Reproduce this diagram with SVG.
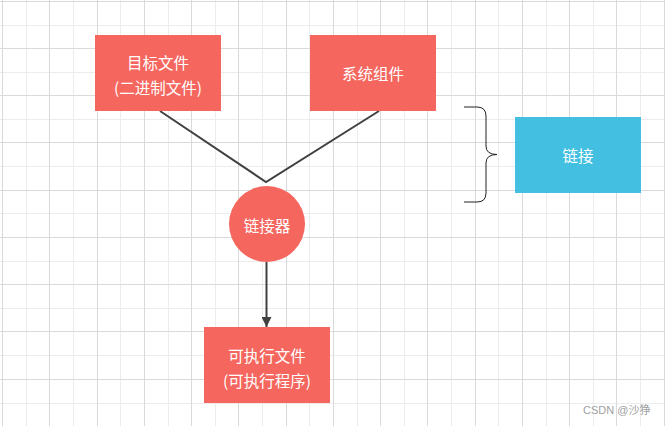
<svg xmlns="http://www.w3.org/2000/svg" width="665" height="426" viewBox="0 0 665 426">
<style>
.light{stroke:#ececec;stroke-width:1;fill:none}
.dark{stroke:#dadada;stroke-width:1;fill:none}
.box{fill:#f5665e}
.blue{fill:#42bfe1}
.t{font-family:"Noto Sans CJK SC","Noto Sans",sans-serif;font-size:15.5px;fill:#ffffff;text-anchor:middle;dominant-baseline:central}
.edge{stroke:#404040;stroke-width:2;fill:none}
.wm{font-family:"Liberation Sans","Noto Sans CJK SC",sans-serif;font-size:11px;fill:#a0a0a0}
</style>
<defs>
<marker id="arr" viewBox="0 0 10 10" refX="10" refY="5" markerWidth="5" markerHeight="5" markerUnits="strokeWidth" orient="auto">
<path d="M0,0 L10,5 L0,10 Z" fill="#404040"/>
</marker>
</defs>
<rect width="665" height="426" fill="#ffffff"/>
<g id="grid">
<path class="light" d="M26.5,0V426M73.5,0V426M120.5,0V426M168.5,0V426M215.5,0V426M262.5,0V426M309.5,0V426M357.5,0V426M404.5,0V426M451.5,0V426M498.5,0V426M546.5,0V426M593.5,0V426M640.5,0V426M0,25.5H665M0,72.5H665M0,119.5H665M0,166.5H665M0,213.5H665M0,261.5H665M0,308.5H665M0,355.5H665M0,403.5H665"/>
<path class="dark" d="M2.5,0V426M49.5,0V426M97.5,0V426M144.5,0V426M191.5,0V426M238.5,0V426M286.5,0V426M333.5,0V426M380.5,0V426M427.5,0V426M475.5,0V426M522.5,0V426M569.5,0V426M616.5,0V426M664.5,0V426M0,1.5H665M0,48.5H665M0,95.5H665M0,142.5H665M0,190.5H665M0,237.5H665M0,284.5H665M0,331.5H665M0,379.5H665"/>
</g>
<g id="connectors">
<path class="edge" d="M160,111 L266,182 L379,111"/>
<path class="edge" d="M266.5,262 L266.5,327" marker-end="url(#arr)"/>
<path d="M464,107 L477,107 Q486,107 486,116 L486,146 Q486,154.5 497,154.5 Q486,154.5 486,163 L486,193 Q486,202 477,202 L464,202" stroke="#222222" stroke-width="1" fill="none"/>
</g>
<g id="obj">
<rect class="box" x="95" y="35" width="126" height="76"/>
<text class="t" x="158" y="62">目标文件</text>
<text class="t" x="158" y="86.5">(二进制文件)</text>
</g>
<g id="sys">
<rect class="box" x="310" y="35" width="126" height="76"/>
<text class="t" x="373" y="73">系统组件</text>
</g>
<g id="linker">
<circle class="box" cx="267" cy="224" r="38"/>
<text class="t" x="267" y="225">链接器</text>
</g>
<g id="exe">
<rect class="box" x="204" y="327" width="126" height="76"/>
<text class="t" x="267" y="355">可执行文件</text>
<text class="t" x="267" y="379.5">(可执行程序)</text>
</g>
<g id="link">
<rect class="blue" x="515" y="117" width="126" height="76"/>
<text class="t" x="578" y="155">链接</text>
</g>
<text class="wm" x="583" y="414">CSDN @沙狰</text>
</svg>
